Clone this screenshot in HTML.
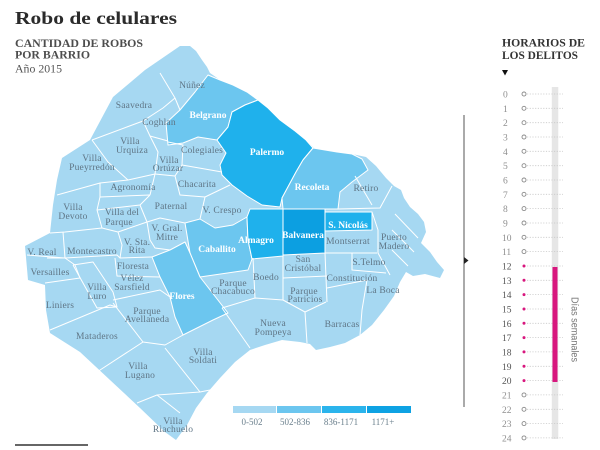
<!DOCTYPE html>
<html><head><meta charset="utf-8">
<style>
html,body{margin:0;padding:0;background:#fff;}
svg{display:block;}
.lb{font-family:"Liberation Serif",serif;font-size:9.5px;fill:#5f7585;text-anchor:middle;letter-spacing:0.2px;}
.wb{font-family:"Liberation Serif",serif;font-size:9.5px;fill:#fff;font-weight:bold;text-anchor:middle;}
.hr{font-family:"Liberation Serif",serif;font-size:9.5px;fill:#8f8f8f;}
.hp{font-family:"Liberation Serif",serif;font-size:9.5px;fill:#555;}
.lg{font-family:"Liberation Serif",serif;font-size:9px;fill:#6a7f8c;text-anchor:middle;}
</style></head>
<body>
<svg width="600" height="450" viewBox="0 0 600 450" xmlns="http://www.w3.org/2000/svg">
<rect width="600" height="450" fill="#fff"/>
<!-- Titles -->
<text x="15" y="24" font-family="Liberation Serif, serif" font-weight="bold" font-size="18" fill="#2b2b2b" textLength="162" lengthAdjust="spacingAndGlyphs">Robo de celulares</text>
<text x="15" y="47" font-family="Liberation Serif, serif" font-weight="bold" font-size="12" fill="#4d4d4d" textLength="128" lengthAdjust="spacingAndGlyphs">CANTIDAD DE ROBOS</text>
<text x="15" y="58.5" font-family="Liberation Serif, serif" font-weight="bold" font-size="12" fill="#4d4d4d" textLength="75" lengthAdjust="spacingAndGlyphs">POR BARRIO</text>
<text x="15" y="72.5" font-family="Liberation Serif, serif" font-size="11.5" fill="#555" textLength="47" lengthAdjust="spacingAndGlyphs">Año 2015</text>

<!-- Map base -->
<path d="M180,46 L190,46 L196,51 L202,60 L207,67 L210,73 L220,80 L233,85 L247,92 L258,100 L268,108 L280,120 L295,131 L306,140 L314,148 L325,150 L337,152 L352,154 L366,157 L376,166 L386,178 L394,186 L401,190 L404,198 L410,207 L418,214 L424,222 L426,232 L421,243 L430,252 L437,262 L444,270 L440,278 L425,274 L413,276 L406,272 L400,282 L394,296 L384,310 L372,325 L360,335 L345,343 L330,347 L316,350 L310,344 L300,342 L282,340 L265,345 L250,350 L235,362 L220,378 L207,393 L196,408 L187,425 L176,440 L165,432 L140,408 L110,380 L80,352 L50,333 L46,310 L45,285 L28,280 L25,246 L50,233 L53,205 L57,180 L62,158 L90,140 L113,97 L145,70 Z" fill="#a6d8f2"/>

<!-- Medium / dark regions -->
<g stroke="#fff" stroke-width="1" stroke-linejoin="round">
<path d="M166,123 L180,110 L195,92 L208,75 L220,80 L233,85 L247,92 L258,100 L245,105 L232,112 L228,127 L217,140 L198,137 L183,143 L168,145 Z" fill="#6cc6ef"/>
<path d="M232,112 L245,105 L258,100 L268,108 L280,120 L295,131 L306,140 L313,148 L303,160 L296,172 L289,185 L282,198 L280,207 L262,205 L247,196 L232,185 L222,175 L220,165 L226,153 L217,140 L228,127 Z" fill="#1fb1ec"/>
<path d="M313,148 L325,150 L337,152 L352,154 L362,159 L368,170 L352,182 L340,192 L338,209 L283,209 L282,198 L289,185 L296,172 L303,160 Z" fill="#6cc6ef"/>
<path d="M185,223 L200,219 L215,228 L233,225 L247,217 L248,240 L252,259 L248,270 L200,277 L190,253 Z" fill="#6cc6ef"/>
<path d="M152,257 L170,250 L185,242 L190,253 L200,277 L214,295 L228,313 L213,320 L183,335 L175,317 L170,297 L160,277 Z" fill="#6cc6ef"/>
<path d="M247,217 L250,209 L283,209 L283,256 L252,259 L248,240 Z" fill="#1fb1ec"/>
<path d="M283,209 L325,209 L325,253 L283,255 Z" fill="#0c9fe1"/>
<path d="M325,212 L372,212 L372,230 L325,231 Z" fill="#1fb1ec"/>
</g>

<!-- Internal boundaries -->
<g fill="none" stroke="#fff" stroke-width="1" stroke-linejoin="round">
<polyline points="160,73 175,98 180,110"/>
<polyline points="175,98 163,108 143,121 92,140"/>
<polyline points="143,121 150,136 168,141"/>
<polyline points="92,140 108,162 128,180"/>
<polyline points="57,195 100,183 128,180 155,174"/>
<polyline points="150,136 158,152 155,174 150,195"/>
<polyline points="168,142 183,145 182,165 175,176 155,174"/>
<polyline points="182,165 222,172"/>
<polyline points="175,176 180,195 205,197 230,185"/>
<polyline points="100,183 100,197 150,195"/>
<polyline points="97,210 100,197"/>
<polyline points="97,210 140,205 150,195"/>
<polyline points="140,205 147,222 160,218 185,223"/>
<polyline points="205,197 200,219"/>
<polyline points="97,210 102,228 118,232 147,222"/>
<polyline points="147,222 150,240 155,248 170,250"/>
<polyline points="118,232 122,245 120,258 152,257"/>
<polyline points="50,233 65,232 102,228"/>
<polyline points="47,258 65,258 117,255 120,258"/>
<polyline points="63,232 65,258"/>
<polyline points="27,255 65,258"/>
<polyline points="45,283 80,278"/>
<polyline points="65,258 75,265 80,278"/>
<polyline points="73,265 93,262 113,292 117,307 97,308 83,283 73,265"/>
<polyline points="115,258 117,276 160,277"/>
<polyline points="113,300 160,290 170,297"/>
<polyline points="50,330 110,305 117,307"/>
<polyline points="113,303 143,342"/>
<polyline points="143,342 165,345 183,335"/>
<polyline points="97,372 143,342"/>
<polyline points="165,348 200,392 210,390"/>
<polyline points="137,403 157,395 180,413"/>
<polyline points="157,395 200,392"/>
<polyline points="222,308 250,348"/>
<polyline points="222,308 255,298 283,300 305,312 326,302"/>
<polyline points="253,258 255,298"/>
<polyline points="283,256 283,300"/>
<polyline points="283,278 327,276"/>
<polyline points="325,253 327,302"/>
<polyline points="305,312 307,343"/>
<polyline points="327,288 367,280"/>
<polyline points="367,280 362,310 360,335"/>
<polyline points="325,253 377,253"/>
<polyline points="352,253 352,270 386,273"/>
<polyline points="338,209 380,208 392,186"/>
<polyline points="372,212 378,230 378,253 390,275"/>
<polyline points="395,214 418,238"/>
<polyline points="392,230 414,252"/>
<polyline points="392,250 408,266"/>
<polyline points="355,176 372,205"/>
</g>

<!-- Labels -->
<g class="lb">
<text x="192" y="88">Núñez</text>
<text x="134" y="108">Saavedra</text>
<text x="159" y="125">Coghlan</text>
<text x="130" y="144">Villa</text>
<text x="132" y="153">Urquiza</text>
<text x="202" y="153">Colegiales</text>
<text x="92" y="161">Villa</text>
<text x="92" y="170">Pueyrredón</text>
<text x="169" y="163">Villa</text>
<text x="168" y="171">Ortúzar</text>
<text x="133" y="190">Agronomía</text>
<text x="197" y="187">Chacarita</text>
<text x="366" y="191">Retiro</text>
<text x="73" y="210">Villa</text>
<text x="73" y="219">Devoto</text>
<text x="171" y="209">Paternal</text>
<text x="222" y="213">V. Crespo</text>
<text x="122" y="215">Villa del</text>
<text x="119" y="225">Parque</text>
<text x="167" y="231">V. Gral.</text>
<text x="167" y="240">Mitre</text>
<text x="137" y="245">V. Sta.</text>
<text x="137" y="253">Rita</text>
<text x="42" y="255">V. Real</text>
<text x="92" y="254">Montecastro</text>
<text x="348" y="244">Montserrat</text>
<text x="394" y="240">Puerto</text>
<text x="394" y="249">Madero</text>
<text x="133" y="269">Floresta</text>
<text x="50" y="275">Versailles</text>
<text x="132" y="281">Vélez</text>
<text x="132" y="290">Sarsfield</text>
<text x="97" y="290">Villa</text>
<text x="97" y="299">Luro</text>
<text x="60" y="308">Liniers</text>
<text x="303" y="262">San</text>
<text x="303" y="271">Cristóbal</text>
<text x="369" y="265">S.Telmo</text>
<text x="266" y="280">Boedo</text>
<text x="352" y="281">Constitución</text>
<text x="233" y="286">Parque</text>
<text x="233" y="294">Chacabuco</text>
<text x="383" y="293">La Boca</text>
<text x="304" y="294">Parque</text>
<text x="305" y="302">Patricios</text>
<text x="147" y="314">Parque</text>
<text x="147" y="322">Avellaneda</text>
<text x="273" y="326">Nueva</text>
<text x="273" y="335">Pompeya</text>
<text x="342" y="327">Barracas</text>
<text x="97" y="339">Mataderos</text>
<text x="203" y="355">Villa</text>
<text x="203" y="363">Soldati</text>
<text x="138" y="369">Villa</text>
<text x="140" y="378">Lugano</text>
<text x="173" y="424">Villa</text>
<text x="173" y="432">Riachuelo</text>
</g>
<g class="wb">
<text x="208" y="118">Belgrano</text>
<text x="267" y="155">Palermo</text>
<text x="312" y="190">Recoleta</text>
<text x="348" y="228">S. Nicolás</text>
<text x="303" y="238">Balvanera</text>
<text x="256" y="243">Almagro</text>
<text x="217" y="252">Caballito</text>
<text x="182" y="299">Flores</text>
</g>

<!-- Legend -->
<rect x="233" y="406" width="43" height="7" fill="#a6d8f2"/>
<rect x="277" y="406" width="44" height="7" fill="#6cc6ef"/>
<rect x="322" y="406" width="44" height="7" fill="#2bb4ec"/>
<rect x="367" y="406" width="44" height="7" fill="#0ea2e3"/>
<text class="lg" x="252" y="425">0-502</text>
<text class="lg" x="295" y="425">502-836</text>
<text class="lg" x="341" y="425">836-1171</text>
<text class="lg" x="383" y="425">1171+</text>

<!-- Bottom-left rule -->
<line x1="15" y1="445" x2="88" y2="445" stroke="#333" stroke-width="1.5"/>

<!-- Left vertical line of right panel -->
<line x1="464" y1="115" x2="464" y2="407" stroke="#555" stroke-width="1"/>
<polygon points="464,257 468.5,260.5 464,264" fill="#222"/>

<!-- Right panel headings -->
<text x="502" y="46.7" font-family="Liberation Serif, serif" font-weight="bold" font-size="12" fill="#333" textLength="83" lengthAdjust="spacingAndGlyphs">HORARIOS DE</text>
<text x="502" y="59" font-family="Liberation Serif, serif" font-weight="bold" font-size="12" fill="#333" textLength="76" lengthAdjust="spacingAndGlyphs">LOS DELITOS</text>
<polygon points="502,70 508,70 505,75.5" fill="#111"/>

<!-- Bars -->
<rect x="551.8" y="87" width="6.5" height="352" fill="#e6e6e6"/>

<!-- Hour rows -->
<g stroke="#c8c8c8" stroke-width="0.8" stroke-dasharray="1.2,1.5">
<line x1="527" y1="94" x2="563" y2="94"/>
<line x1="527" y1="108.3" x2="563" y2="108.3"/>
<line x1="527" y1="122.7" x2="563" y2="122.7"/>
<line x1="527" y1="137" x2="563" y2="137"/>
<line x1="527" y1="151.3" x2="563" y2="151.3"/>
<line x1="527" y1="165.7" x2="563" y2="165.7"/>
<line x1="527" y1="180" x2="563" y2="180"/>
<line x1="527" y1="194.3" x2="563" y2="194.3"/>
<line x1="527" y1="208.6" x2="563" y2="208.6"/>
<line x1="527" y1="223" x2="563" y2="223"/>
<line x1="527" y1="237.3" x2="563" y2="237.3"/>
<line x1="527" y1="251.6" x2="563" y2="251.6"/>
<line x1="527" y1="266" x2="563" y2="266"/>
<line x1="527" y1="280.3" x2="563" y2="280.3"/>
<line x1="527" y1="294.6" x2="563" y2="294.6"/>
<line x1="527" y1="309" x2="563" y2="309"/>
<line x1="527" y1="323.3" x2="563" y2="323.3"/>
<line x1="527" y1="337.6" x2="563" y2="337.6"/>
<line x1="527" y1="351.9" x2="563" y2="351.9"/>
<line x1="527" y1="366.3" x2="563" y2="366.3"/>
<line x1="527" y1="380.6" x2="563" y2="380.6"/>
<line x1="527" y1="394.9" x2="563" y2="394.9"/>
<line x1="527" y1="409.3" x2="563" y2="409.3"/>
<line x1="527" y1="423.6" x2="563" y2="423.6"/>
<line x1="527" y1="437.9" x2="563" y2="437.9"/>
</g>

<rect x="552.5" y="267" width="5" height="115" fill="#d8177e"/>

<g fill="#fff" stroke="#8a8a8a" stroke-width="0.9">
<circle cx="524" cy="94" r="2"/>
<circle cx="524" cy="108.3" r="2"/>
<circle cx="524" cy="122.7" r="2"/>
<circle cx="524" cy="137" r="2"/>
<circle cx="524" cy="151.3" r="2"/>
<circle cx="524" cy="165.7" r="2"/>
<circle cx="524" cy="180" r="2"/>
<circle cx="524" cy="194.3" r="2"/>
<circle cx="524" cy="208.6" r="2"/>
<circle cx="524" cy="223" r="2"/>
<circle cx="524" cy="237.3" r="2"/>
<circle cx="524" cy="251.6" r="2"/>
<circle cx="524" cy="394.9" r="2"/>
<circle cx="524" cy="409.3" r="2"/>
<circle cx="524" cy="423.6" r="2"/>
<circle cx="524" cy="437.9" r="2"/>
</g>
<g fill="#d8177e">
<circle cx="524" cy="266" r="1.5"/>
<circle cx="524" cy="280.3" r="1.5"/>
<circle cx="524" cy="294.6" r="1.5"/>
<circle cx="524" cy="309" r="1.5"/>
<circle cx="524" cy="323.3" r="1.5"/>
<circle cx="524" cy="337.6" r="1.5"/>
<circle cx="524" cy="351.9" r="1.5"/>
<circle cx="524" cy="366.3" r="1.5"/>
<circle cx="524" cy="380.6" r="1.5"/>
</g>

<g class="hr">
<text x="503" y="97.5">0</text>
<text x="503" y="111.8">1</text>
<text x="503" y="126.2">2</text>
<text x="503" y="140.5">3</text>
<text x="503" y="154.8">4</text>
<text x="503" y="169.2">5</text>
<text x="503" y="183.5">6</text>
<text x="503" y="197.8">7</text>
<text x="503" y="212.1">8</text>
<text x="503" y="226.5">9</text>
<text x="502" y="240.8">10</text>
<text x="502" y="255.1">11</text>
<text x="502" y="398.4">21</text>
<text x="502" y="412.8">22</text>
<text x="502" y="427.1">23</text>
<text x="502" y="441.4">24</text>
</g>
<g class="hp">
<text x="502" y="269.5">12</text>
<text x="502" y="283.8">13</text>
<text x="502" y="298.1">14</text>
<text x="502" y="312.5">15</text>
<text x="502" y="326.8">16</text>
<text x="502" y="341.1">17</text>
<text x="502" y="355.4">18</text>
<text x="502" y="369.8">19</text>
<text x="502" y="384.1">20</text>
</g>

<text transform="translate(571.5,297) rotate(90)" font-family="Liberation Sans, sans-serif" font-size="10" fill="#777" textLength="65" lengthAdjust="spacingAndGlyphs">Días semanales</text>
</svg>
</body></html>
